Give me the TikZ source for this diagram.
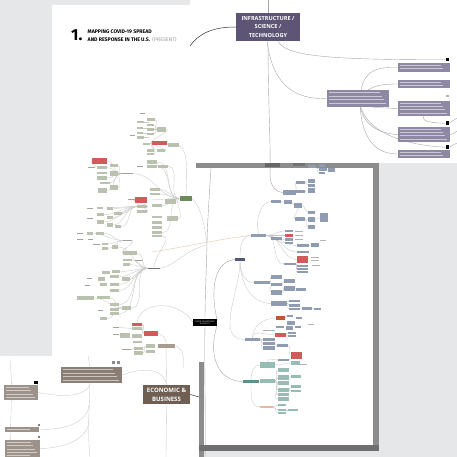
\documentclass[tikz,border=0pt]{standalone}
\usepackage{fontspec}
\setmainfont{Open Sans}
\newfontfamily\hdfont{Fira Sans}
\pgfdeclarelayer{back}
\pgfdeclarelayer{lines}
\pgfsetlayers{back,lines,main}
\definecolor{bgc}{HTML}{E6E7E9}
\definecolor{grn}{HTML}{B9C2AE}
\definecolor{grnD}{HTML}{6C8A5A}
\definecolor{rd}{HTML}{D35A5B}
\definecolor{org}{HTML}{C4532F}
\definecolor{blu}{HTML}{8F9CB2}
\definecolor{bluD}{HTML}{4E5A71}
\definecolor{tea}{HTML}{96BDB3}
\definecolor{teaD}{HTML}{5E9188}
\definecolor{pur}{HTML}{5E5576}
\definecolor{lav}{HTML}{8E88A4}
\definecolor{brn}{HTML}{6F5F52}
\definecolor{brn2}{HTML}{8B7F75}
\definecolor{brn3}{HTML}{A89C90}
\definecolor{lnc}{HTML}{C9C9C9}
\definecolor{bar}{HTML}{8C8C8C}
\definecolor{barD}{HTML}{6F6F6F}
\definecolor{lbc}{HTML}{A0A598}
\definecolor{tanc}{HTML}{E8CDB4}
\newcommand\txtl[5]{\foreach \k in {1,...,#4} \fill[white,opacity=.55] ({#1+2},{#2+(\k-1)*#5+2}) rectangle ++({#3-4-mod(\k*7,9)},0.7);}
\begin{document}
\begin{tikzpicture}[x=1pt,y=-1pt,
  bx/.style={anchor=north west, inner sep=0pt, outer sep=0pt},
  ln/.style={draw=lnc, line width=0.35pt},
  lnd/.style={draw=black!35, line width=0.4pt},
  lnk/.style={draw=black!80, line width=0.5pt},
  tanl/.style={draw=tanc, line width=0.5pt},
  hdt/.style={anchor=base west, inner sep=0pt, font=\hdfont\fontsize{5.2}{6}\selectfont}]
\useasboundingbox (0,0) rectangle (457,457);
\begin{pgfonlayer}{back}
\fill[white] (0,0) rectangle (457,457);
\fill[bgc] (0,0) rectangle (190,5);
\fill[bgc] (0,0) rectangle (52,356);
\fill[bgc] (379,163) rectangle (457,457);
\fill[bgc] (204,451) rectangle (457,457);
\end{pgfonlayer}
% frame bars
\fill[bar] (196,163) rectangle (379,168);
\fill[bar] (373,163) rectangle (379,451);
\fill[barD] (199,445) rectangle (379,451);
\fill[bar] (199,362) rectangle (204,457);
\fill[barD] (199,445) rectangle (204,451);

% ---------- header ----------
\node[anchor=base west, inner sep=0pt, font=\hdfont\bfseries\fontsize{16}{16}\selectfont] (num) at (71,41) {1.};
\node[hdt, font=\hdfont\bfseries\fontsize{5.2}{6}\selectfont] (hd1) at (87.5,33.3) {MAPPING COVID-19 SPREAD};
\node[hdt, font=\hdfont\bfseries\fontsize{5.2}{6}\selectfont] (hd2) at (87.5,41.2) {AND RESPONSE IN THE U.S.};
\node[hdt, text=black!40, xshift=2pt] (hd3) at (hd2.base east) {(PRESENT)};
\coordinate (hdc) at (190,46);

% ---------- panel 2 : infrastructure ----------
\node[fill=pur, text=white, align=center, minimum width=64pt, minimum height=28pt, inner sep=0pt,
  font=\bfseries\fontsize{5.6}{8.6}\selectfont] (infra) at (268,27) {INFRASTRUCTURE /\\SCIENCE /\\TECHNOLOGY};
\node[bx, fill=lav, minimum width=62pt, minimum height=17pt] (p0) at (327,90) {};
\node[bx, fill=lav, minimum width=52pt, minimum height=9pt] (p1) at (398,63) {};
\node[bx, fill=lav, minimum width=52pt, minimum height=8pt] (p2) at (398,80) {};
\node[bx, fill=lav, minimum width=52pt, minimum height=15pt] (p3) at (398,101) {};
\node[bx, fill=lav, minimum width=52pt, minimum height=15pt] (p4) at (398,127) {};
\node[bx, fill=lav, minimum width=52pt, minimum height=8pt] (p5) at (398,150) {};
\txtl{327}{90}{62}{4}{3.6}
\txtl{398}{63}{52}{2}{3.2}
\txtl{398}{80}{52}{2}{3}
\txtl{398}{101}{52}{4}{3.2}
\txtl{398}{127}{52}{4}{3.2}
\txtl{398}{150}{52}{2}{3}
\node[bx, fill=black, minimum width=3.5pt, minimum height=3.5pt] (sq1) at (445.5,58) {};
\node[bx, fill=black, minimum width=3.5pt, minimum height=3.5pt] (sq2) at (445.5,121.5) {};
\node[bx, fill=black, minimum width=3.5pt, minimum height=3.5pt] (sq3) at (445.5,145.5) {};
\node[bx, fill=black!30, minimum width=3pt, minimum height=2pt] (ic0) at (446,95) {};
\coordinate (topc) at (268,0);
\coordinate (pf) at (360,104);
\coordinate (re1) at (457,118);
\coordinate (re2) at (457,143);

% ---------- green cluster (left) ----------
\foreach \x/\y/\w/\h [count=\i] in {
137/121/7/2, 147/118/8/3, 147/124/7/2, 137/127/6/2, 147/128/7/3, 157/127/9/5, 137/132/6/2, 147/133/7/2,
137/136/7/3, 143/143/7/2, 168/143/11/4, 147/149/7/3, 147/153/7/2, 157/149/8/3, 97/166/10/3, 97/172/10/2,
97/176/10/4, 110/164/8/3, 110/171/8/5, 100/182/10/2, 98/188/9/5, 110/185/8/5, 147/160/10/4, 147/165/10/3,
158/165/10/3, 150/188/10/3, 150/193/10/2, 152/204/10/3, 165/199/11/5, 137/205/10/3, 137/210/10/3, 167/216/11/5,
152/216/10/2, 152/221/10/3, 152/226/10/3, 152/231/10/3, 152/235/10/2, 97/207/6/2, 107/207/6/3, 114/212/8/3,
97/213/7/3, 107/216/6/3, 97/220/7/4, 107/223/6/4, 115/225/6/3, 87/232/6/3, 96/232/8/3, 102/243/6/2,
102/247/6/3, 112/245/6/4, 123/251/14/4, 123/259/9/2, 123/263/7/3, 102/271/8/3, 112/270/8/3, 110/275/9/3,
122/277/8/4, 98/277/7/4, 100/283/7/3, 110/283/9/3, 110/289/9/3, 77/296/17/4, 97/296/13/3, 110/303/9/3,
110/308/9/3, 122/306/9/4, 110/312/9/3, 100/317/7/3, 132/327/10/3, 120/333/10/5, 132/334/10/4, 133/341/9/2,
134/347/9/3, 134/351/9/4, 146/344/9/4, 146/350/9/3}
  \node[bx, fill=grn, minimum width=\w pt, minimum height=\h pt] (g\i) at (\x,\y) {};
\foreach \x/\y/\w/\h [count=\i] in {152/141/15/4, 92/158/15/6, 135/197/12/6, 132/323/10/3, 144/331/14/5}
  \node[bx, fill=rd, minimum width=\w pt, minimum height=\h pt] (r\i) at (\x,\y) {};
\foreach \x/\y/\w/\h [count=\i] in {121/173/12/1.3, 128/199/7/1.2, 123/240/9/1.2, 88/167/7/1, 137/166/6/1,
87/208/6/1, 87/218/6/1, 77/233/6/1, 77/239/6/1, 88/239/5/1, 93/244/7/1, 135/260/8/1, 87/278/5/1, 85/285/5/1,
98/310/5/1, 122/349/9/1, 113/327/6/1, 113/334/6/1, 130/135/5/1, 140/113/5/1}
  \node[bx, fill=lbc, minimum width=\w pt, minimum height=\h pt] (lb\i) at (\x,\y) {};
\node[bx, fill=grnD, minimum width=12pt, minimum height=5pt] (ghub) at (180,196) {};
\node[bx, fill=black!55, minimum width=12pt, minimum height=1.8pt] (lhub) at (148,267.5) {};
\node[bx, fill=brn3, minimum width=17pt, minimum height=4pt] (bn) at (158,344) {};
\coordinate (tr0) at (211,168);
\coordinate (trA) at (207,245);
\coordinate (trB) at (205,457);
\coordinate (tanA) at (152,252);

% ---------- center ----------
\node[bx, fill=black, text=white, align=center, minimum width=24pt, minimum height=7pt,
  font=\fontsize{2}{2.4}\selectfont] (cn) at (193,319) {COVID-19 RESPONSE\\IN THE U.S.};

% ---------- right cluster ----------
\foreach \x/\y/\w/\h [count=\i] in {
251/234/15/3, 285/230/8/2, 271/237/11/3, 285/238/8/3, 285/241.5/8/2.5, 297/244/12/3, 311/243/8/4, 297/251/12/2,
297/265/11/2, 297/268/11/2, 297/271/11/2, 284/263/12/2, 254/281/16/3, 271/275/11/4, 271/283/11/3, 271/290/11/5,
284/279/11/4, 284/286/11/5, 296/288/10/3, 271/301/16/5, 289/300/11/2, 289/304/11/3, 289/307.5/11/2.5, 302/307/10/3,
314/308/7/2, 287/315/6/2, 296/317/6/2, 287/321/8/4, 276/326/8/2, 286/326/7/4, 295/326/6/2, 288/332/8/2,
288/335/8/2, 245/338/15/3, 263/338/12/3, 263/342/12/3, 263/345.5/12/4.5, 277/344/11/3, 278/359/11/2, 296/181/9/3,
308/179/7/4, 308/184/7/3, 283/190/13/5, 296/190/9/3, 308/188/7/5, 271/200/10/3, 284/200/8/4, 294/203/8/5,
308/211/7/3, 295/217/10/4, 308/217/7/5, 320/213/8/9, 308/225/7/4, 319/164/6/3, 319/168/8/3, 319/171.5/6/2.5,
328/168/7/4, 308/165/8/3}
  \node[bx, fill=blu, minimum width=\w pt, minimum height=\h pt] (b\i) at (\x,\y) {};
\node[bx, fill=rd, minimum width=8pt, minimum height=3pt] (rr1) at (285,234) {};
\node[bx, fill=rd, minimum width=11pt, minimum height=7pt] (rr2) at (297,256) {};
\node[bx, fill=org, minimum width=9pt, minimum height=4pt] (rr3) at (276,316) {};
\node[bx, fill=rd, minimum width=11pt, minimum height=4pt] (rr4) at (275,333) {};
\node[bx, fill=rd, minimum width=11pt, minimum height=7pt] (rr5) at (291,352) {};
\node[bx, fill=bluD, minimum width=10pt, minimum height=3pt] (bh) at (235,258) {};
\node[bx, fill=black!60, minimum width=15pt, minimum height=4pt] (bk1) at (265,163) {};
\node[bx, fill=black!55, minimum width=12pt, minimum height=3pt] (bk2) at (293,163) {};
\foreach \x/\y/\w/\h [count=\i] in {295/231/8/1, 295/235/8/1, 295/239/8/1, 311/257/8/1, 311/260/8/1, 312/265/8/1,
263/330/12/1, 298/364/9/1, 308/324/6/1, 320/240/6/1}
  \node[bx, fill=black!30, minimum width=\w pt, minimum height=\h pt] (rl\i) at (\x,\y) {};
\foreach \x/\y/\w/\h [count=\i] in {
260/362/15/6, 291/361/9/4, 260/379/15/4, 278/368/11/4, 278/375/11/5, 278/381/11/4, 278/388/11/4, 278/393/11/3,
278/397/11/4, 291/375/10/3, 291/385/10/3, 291/390/10/2, 278/404/8/2, 278/409/8/2, 278/412/8/1.5, 288/409/10/2}
  \node[bx, fill=tea, minimum width=\w pt, minimum height=\h pt] (t\i) at (\x,\y) {};
\node[bx, fill=teaD, minimum width=16pt, minimum height=3pt] (th) at (243,380) {};
\node[bx, fill=tanc!90!red, minimum width=13pt, minimum height=2pt] (ol) at (260,406) {};

% ---------- panel 4 : economic ----------
\node[fill=brn, text=white, align=center, minimum width=47pt, minimum height=19pt, inner sep=0pt,
  font=\bfseries\fontsize{6}{8.7}\selectfont] (econ) at (166.5,394.5) {ECONOMIC \&\\BUSINESS};
\node[bx, fill=brn2, minimum width=61pt, minimum height=16pt] (q0) at (61,367) {};
\node[bx, fill=brn2!85, minimum width=34pt, minimum height=15pt] (q1) at (4,385) {};
\node[bx, fill=brn2!85, minimum width=34pt, minimum height=5pt] (q2) at (5,427) {};
\node[bx, fill=brn2!85, minimum width=35pt, minimum height=17pt] (q3) at (5,440) {};
\txtl{61}{367}{61}{4}{3.5}
\txtl{4}{385}{34}{4}{3.3}
\txtl{5}{426.5}{34}{1}{3}
\txtl{5}{440}{35}{5}{3.3}
\node[bx, fill=black!45, minimum width=3pt, minimum height=3pt] (ic1) at (112,361) {};
\node[bx, fill=black!45, minimum width=3pt, minimum height=3pt] (ic2) at (117,361) {};
\node[bx, fill=black, minimum width=3.5pt, minimum height=2.5pt] (ic3) at (34,381) {};
\node[bx, fill=black!50, minimum width=1.5pt, minimum height=2pt] (ic4) at (38,424) {};
\node[bx, fill=black!50, minimum width=1.5pt, minimum height=2pt] (ic5) at (38,436) {};
\coordinate (lt1) at (88,355);
\coordinate (lt2) at (90,457);
\coordinate (eb) at (166,457);
\coordinate (et) at (166,343);
\coordinate (lf1) at (10,360);
\coordinate (lf2) at (12,457);
\coordinate (fr) at (199,397);

% ================= connectors =================
\begin{pgfonlayer}{lines}
% header & panel 2
\draw[lnk] (hdc) .. controls (200,32) and (215,27) .. (infra.west);
\draw[lnd] (infra.north) -- (topc);
\draw[lnd] (infra.south) .. controls (268,100) and (271,150) .. (270,175) .. controls (270,185) and (275,192) .. (b43.west);
\draw[lnd] ([xshift=10pt]infra.south) .. controls (285,55) and (320,60) .. (sq1.west);
\draw[lnd] ([xshift=-1pt]infra.south) .. controls (272,80) and (290,100) .. (p0.west);
\draw[lnd] (pf) .. controls (360,70) and (375,67) .. (p1.west);
\draw[lnd] (pf) .. controls (362,86) and (380,84) .. (p2.west);
\draw[lnd] (pf) .. controls (370,108) and (385,108) .. (p3.west);
\draw[lnd] (pf) .. controls (362,125) and (380,134) .. (p4.west);
\draw[lnd] (pf) .. controls (362,145) and (380,154) .. (p5.west);
\draw[lnd] (pf) .. controls (365,130) and (400,145) .. (sq3.west);
\draw[lnd] (p3.south) .. controls (420,122) and (435,123) .. (sq2.west);
\draw[lnd] (sq2.east) -- (re1);
\draw[lnd] (sq3.east) -- (re2);
\draw[lnd] (p4.east) .. controls (452,135) and (455,133) .. (457,131);
% trunk
\draw[lnd] (tr0) .. controls (209,200) and (207,230) .. (trA) .. controls (206,280) and (205,300) .. (cn.north);
\draw[lnd] (cn.south) .. controls (204,360) and (206,420) .. (trB);
\draw[lnd] (cn.north east) .. controls (212,300) and (210,262) .. (bh.west);
\draw[lnd] (cn.south east) .. controls (209,350) and (214,381) .. (th.west);
% green cluster
\draw[ln] (ghub.east) .. controls (200,205) and (205,225) .. (trA);
\draw[ln] (ghub.north) .. controls (187,170) and (188,150) .. (g11.east);
\foreach \k in {23,24,25,26,27,28,29,32,36} \draw[ln] (ghub.west) to[out=180,in=0] (g\k.east);
\draw[ln] (ghub.west) to[out=180,in=0] (r3.east);
\draw[ln] (ghub.west) to[out=180,in=0] (lb1.east);
\draw[ln] (r3.west) to[out=180,in=0] (lb2.east);
\foreach \k in {30,31} \draw[ln] (r3.west) to[out=180,in=0] (g\k.east);
\foreach \k in {15,16,17,18,19,20,21,22} \draw[ln] (lb1.west) to[out=180,in=0] (g\k.east);
\draw[ln] (lb1.west) to[out=180,in=0] (r2.east);
\draw[ln] (r2.west) to[out=180,in=0] (lb4.east);
\foreach \k in {6,10,12,13,14} \draw[ln] (r1.west) to[out=180,in=0] (g\k.east);
\draw[ln] (g11.west) -- (r1.east);
\foreach \k in {2,3,5,8} \draw[ln] (g6.west) to[out=180,in=0] (g\k.east);
\foreach \k in {1,4,7,9} \draw[ln] (g\k.east) -- +(5,0);
\foreach \k in {38,39,40,41,42,43,44,45} \draw[ln] (g\k.east) to[out=0,in=180] (g30.west);
\foreach \k in {50,51,52,53,55,56,57,60,61,64,66,67} \draw[ln] (lhub.west) to[out=180,in=0] (g\k.east);
\draw[ln] (lhub.east) .. controls (175,266) and (185,250) .. (trA);
\draw[ln] (g37.east) to[out=0,in=90] (lhub.north);
\foreach \k in {46,47,48,49} \draw[ln] (g\k.east) to[out=0,in=180] (lb3.west);
\draw[ln] (lb3.east) to[out=0,in=180] (g51.west);
\foreach \k in {62,63,68} \draw[ln] (g\k.east) to[out=0,in=180] (g66.west);
\foreach \k in {69,71,72} \draw[ln] (r4.east) to[out=0,in=180] (r5.west);
\foreach \k in {73,74} \draw[ln] (g\k.east) to[out=0,in=180] (g75.west);
\draw[ln] (lb17.east) -- (g69.west);
\draw[ln] (lb18.east) -- (g70.west);
\draw[ln] (lb16.east) -- (g73.west);
\draw[ln] (r5.east) .. controls (165,336) and (166,340) .. (et);
\draw[ln] (bn.east) .. controls (183,348) and (184,356) .. (183,368);
\draw[ln] (r4.north) .. controls (140,300) and (180,300) .. (cn.west);
\draw[tanl] (tanA) .. controls (190,246) and (225,238) .. (b1.west);
% right cluster
\draw[ln] (bh.north) to[out=90,in=180] (b1.west);
\draw[ln] (b1.north) .. controls (255,215) and (262,202) .. (b46.west);
\foreach \k in {2,4,5} \draw[ln] (b1.east) to[out=0,in=180] (b\k.west);
\draw[ln] (b1.east) to[out=0,in=180] (rr1.west);
\foreach \k in {6,8,12} \draw[ln] (b1.east) to[out=0,in=180] (b\k.west);
\draw[ln] (b1.east) to[out=0,in=180] (rr2.west);
\draw[ln] (b6.east) -- (b7.west);
\foreach \k in {9,10,11} \draw[ln] (b12.east) to[out=0,in=180] (b\k.west);
\draw[ln] (bh.south) to[out=270,in=180] (b13.west);
\draw[ln] (bh.south) to[out=270,in=180] (b20.west);
\draw[ln] (bh.south) to[out=270,in=180] (b34.west);
\foreach \k in {14,15,16} \draw[ln] (b13.east) to[out=0,in=180] (b\k.west);
\foreach \k in {17,18} \draw[ln] (b16.east) to[out=0,in=180] (b\k.west);
\draw[ln] (b18.east) -- (b19.west);
\foreach \k in {21,22,23} \draw[ln] (b20.east) to[out=0,in=180] (b\k.west);
\draw[ln] (b23.east) -- (b24.west);
\draw[ln] (b24.east) -- (b25.west);
\draw[ln] (b34.north) to[out=90,in=180] (rr3.west);
\draw[ln] (rr3.east) to[out=0,in=180] (b26.west);
\draw[ln] (b34.north) to[out=90,in=180] (rr4.west);
\foreach \k in {32,33} \draw[ln] (rr4.east) to[out=0,in=180] (b\k.west);
\foreach \k in {35,36,37} \draw[ln] (b34.east) to[out=0,in=180] (b\k.west);
\draw[ln] (b36.east) to[out=0,in=180] (b38.west);
\draw[ln] (b38.east) to[out=0,in=180] (rr5.west);
\draw[ln] (b46.east) -- (b47.west);
\draw[ln] (b47.east) -- (b48.west);
\draw[ln] (b43.east) -- (b44.west);
\draw[ln] (b44.east) -- (b45.west);
\draw[ln] (b43.north east) to[out=60,in=180] (b40.west);
\draw[ln] (b40.east) to[out=0,in=180] (b41.west);
\draw[ln] (b40.east) to[out=0,in=180] (b42.west);
\draw[ln] (b48.south) to[out=270,in=180] (b50.west);
\draw[ln] (b48.east) to[out=0,in=180] (b49.west);
\draw[ln] (b50.east) -- (b51.west);
\draw[ln] (b51.east) -- (b52.west);
\draw[ln] (b50.east) to[out=0,in=180] (b53.west);
\draw[ln] (bk2.east) to[out=0,in=180] (b58.west);
\foreach \k in {54,55,56} \draw[ln] (b58.east) to[out=0,in=180] (b\k.west);
\draw[ln] (b55.east) -- (b57.west);
% teal
\draw[ln] (th.east) -- (t3.west);
\foreach \k in {4,5,6,7,8,9} \draw[ln] (t3.east) to[out=0,in=180] (t\k.west);
\draw[ln] (th.north) to[out=90,in=180] (t1.west);
\draw[ln] (t1.east) to[out=0,in=180] (t2.west);
\draw[ln] (t1.north) to[out=90,in=180] (b39.west);
\draw[ln] (b39.east) to[out=0,in=180] (rr5.south west);
\draw[ln] (t5.east) -- (t10.west);
\draw[ln] (t7.east) to[out=0,in=180] (t11.west);
\draw[ln] (t7.east) to[out=0,in=180] (t12.west);
\draw[ln] (th.south) to[out=270,in=180] (ol.west);
\foreach \k in {13,14,15} \draw[ln] (ol.east) to[out=0,in=180] (t\k.west);
\draw[ln] (t14.east) -- (t16.west);
% panel 4
\draw[ln] (et) -- (econ.north);
\draw[ln] (econ.south) -- (eb);
\draw[lnk] (econ.east) -- (fr);
\draw[ln] (q0.east) .. controls (150,365) and (165,372) .. (econ.north);
\draw[ln] (lt1) .. controls (93,380) and (86,420) .. (lt2);
\draw[ln] (q1.east) .. controls (65,398) and (85,396) .. (90,385);
\draw[ln] (q2.east) .. controls (70,430) and (88,420) .. (89,405);
\draw[ln] (q3.east) .. controls (70,448) and (89,436) .. (89,420);
\draw[ln] (lf1) .. controls (14,400) and (8,430) .. (lf2);
\end{pgfonlayer}
\end{tikzpicture}
\end{document}
